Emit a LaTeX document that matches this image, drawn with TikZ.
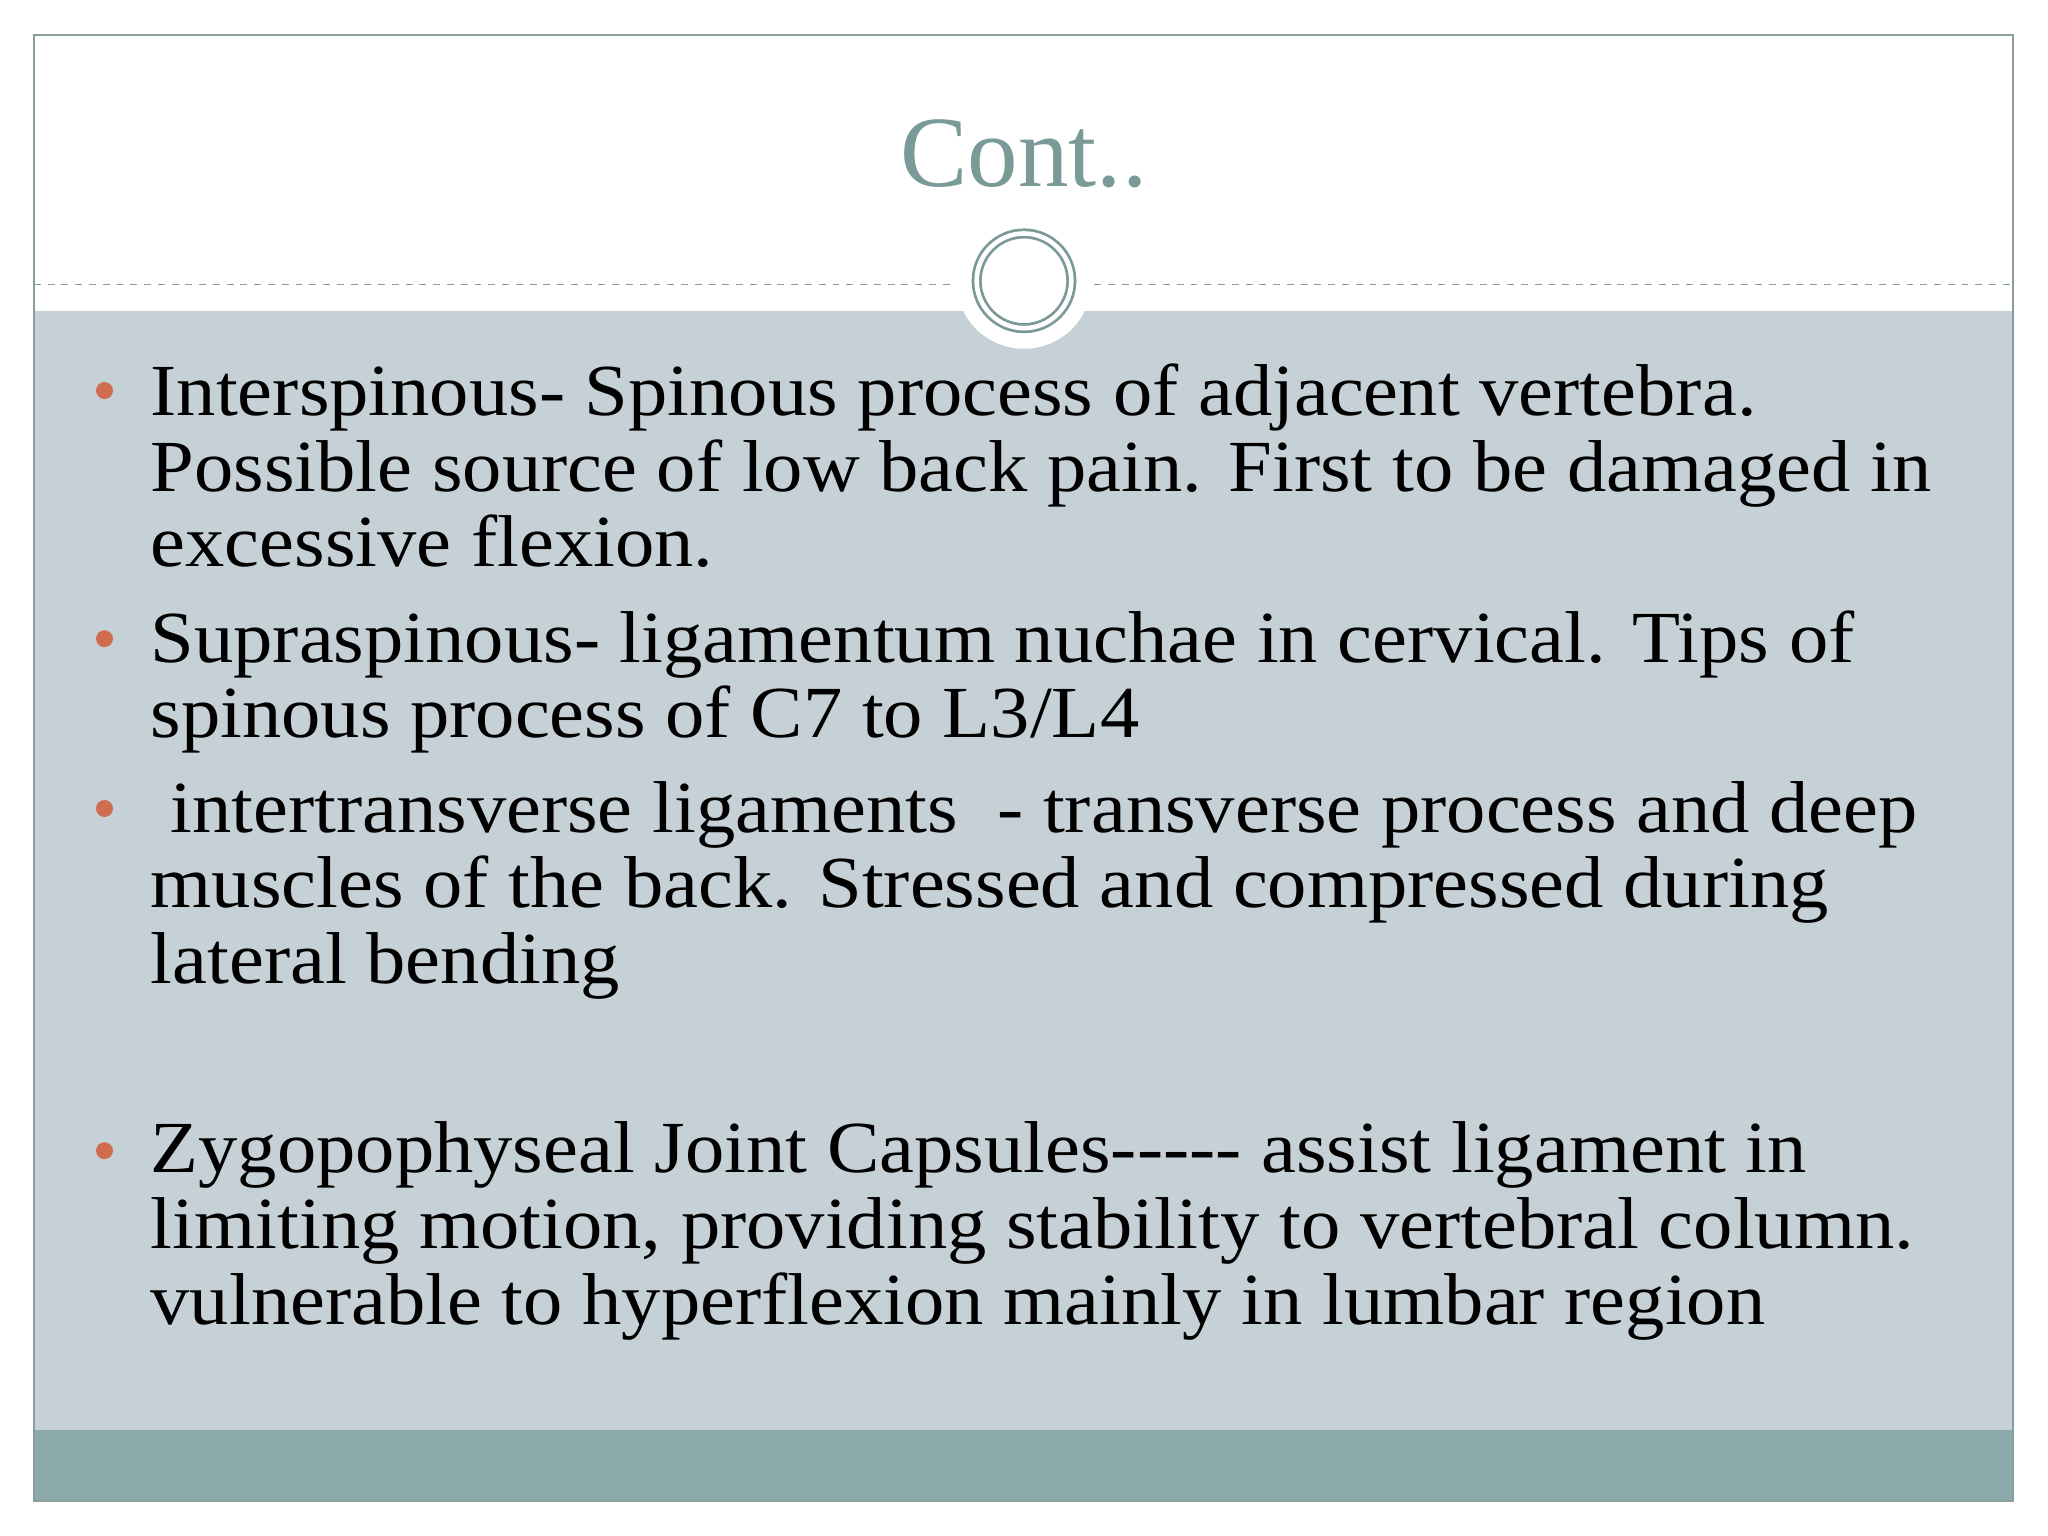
\documentclass[tikz,border=0pt]{standalone}
\usepackage{fontspec}
\setmainfont{Liberation Serif}
\newfontfamily\bodyfont[FakeStretch=1.07]{Liberation Serif}
\definecolor{bodyg}{HTML}{C5D1D6}
\definecolor{bandg}{HTML}{8BA9AA}
\definecolor{titleg}{HTML}{7A9A97}
\definecolor{bul}{HTML}{D06C50}
\definecolor{frame}{HTML}{8A9C9C}
\begin{document}
\begin{tikzpicture}[x=0.02cm,y=-0.02cm,
  ln/.style={anchor=base west,inner sep=0pt,font=\bodyfont\fontsize{32}{36}\selectfont,text=black},
  bdot/.style={circle,fill=bul,inner sep=0pt,minimum size=0.26cm}]
\useasboundingbox (0,0) rectangle (1568,1176);
\fill[white] (0,0) rectangle (1568,1176);
\fill[bodyg] (26,238) rectangle (1541,1095);
\fill[bandg] (26,1095) rectangle (1541,1149);
\draw[frame,line width=0.8pt] (26,27) rectangle (1541,1149);
\draw[frame,dashed,line width=0.5pt] (26,218) -- (1541,218);
\fill[white] (784,215) circle (52);
\node[draw=titleg,circle,double=white,double distance=2pt,line width=1.2pt,minimum size=1.45cm,inner sep=0pt] (ring) at (784,215) {};
\node[anchor=base,text=titleg,font=\fontsize{44}{50}\selectfont] (title) at (784,143) {Cont..};
\node[bdot] (b1) at (80,299) {};
\node[bdot] (b2) at (80,489) {};
\node[bdot] (b3) at (80,619) {};
\node[bdot] (b4) at (80,881) {};
\node[ln] (l1) at (115,318) {Interspinous- Spinous process of adjacent vertebra.};
\node[ln] (l2) at (115,376) {Possible source of low back pain. First to be damaged in};
\node[ln] (l3) at (115,434) {excessive flexion.};
\node[ln] (l4) at (115,507) {Supraspinous- ligamentum nuchae in cervical. Tips of};
\node[ln] (l5) at (115,565) {spinous process of C7 to L3/L4};
\node[ln] (l6) at (115,637) {\ intertransverse ligaments \ - transverse process and deep};
\node[ln] (l7) at (115,695) {muscles of the back. Stressed and compressed during};
\node[ln] (l8) at (115,753) {lateral bending};
\node[ln] (l9) at (115,898) {Zygopophyseal Joint Capsules{-}{-}{-}{-}{-} assist ligament in};
\node[ln] (l10) at (115,956) {limiting motion, providing stability to vertebral column.};
\node[ln] (l11) at (115,1014) {vulnerable to hyperflexion mainly in lumbar region};
\end{tikzpicture}
\end{document}
